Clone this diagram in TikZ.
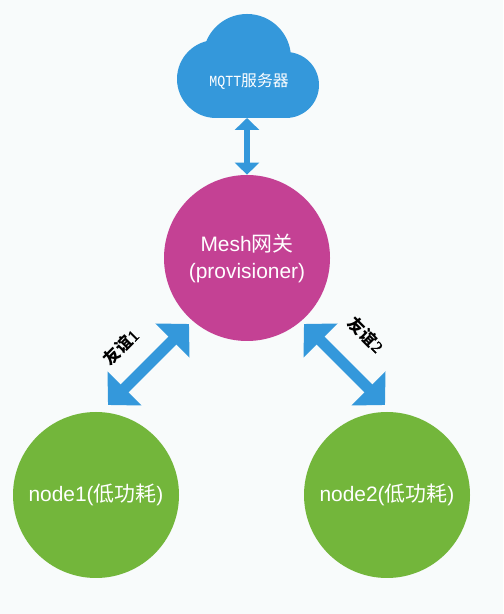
\documentclass[tikz,border=0pt]{standalone}
\usepackage{fontspec}
\setmainfont{Liberation Sans}
\newfontfamily\zh{Noto Sans CJK SC}
\newfontfamily\mqttfont[FakeStretch=0.86]{Liberation Mono}
\newfontfamily\digitfont[FakeBold=2]{Liberation Serif}
\usetikzlibrary{arrows.meta}
\definecolor{pagebg}{HTML}{F8FBFB}
\definecolor{linkblue}{HTML}{3498DB}
\definecolor{meshpink}{HTML}{C44194}
\definecolor{nodegreen}{HTML}{73B63B}
\tikzset{
  roundnode/.style={circle, minimum size=3.32cm, inner sep=0pt, text=white, align=center,
    font=\fontsize{11.9}{15.3}\selectfont},
  thinlink/.style={linkblue, line width=0.12cm, {Triangle[length=0.24cm, width=0.48cm]}-{Triangle[length=0.24cm, width=0.48cm]}},
  widelink/.style={linkblue, line width=0.22cm, {Triangle[length=0.47cm, width=0.94cm]}-{Triangle[length=0.47cm, width=0.94cm]}},
  linklabel/.style={font=\fontsize{9.4}{9.4}\selectfont, text=black, inner sep=0pt}
}
\begin{document}
\begin{tikzpicture}
  % Page background
  \fill[pagebg] (0, 0) rectangle (10.06, 12.28);
  \useasboundingbox (0, 0) rectangle (10.06, 12.28);

  % Cloud
  \fill[linkblue] (4.32, 10.70) circle (0.78);
  \fill[linkblue] (4.94, 11.12) circle (0.88);
  \fill[linkblue] (5.72, 10.58) circle (0.66);
  \fill[linkblue] (4.32, 9.92) rectangle (5.72, 10.90);
  \node[text=white, inner sep=0pt, font=\fontsize{9}{9}\selectfont] (cloud) at (4.98, 10.66)
    {{\mqttfont\fontsize{8.8}{9}\selectfont MQTT}{\zh 服务器}};
  \coordinate (cloudbottom) at (4.94, 9.92);

  % Round nodes
  \node[roundnode, fill=meshpink] (mesh) at (4.94, 7.12) {Mesh{\zh 网关}\\(provisioner)};
  \node[roundnode, fill=nodegreen] (node1) at (1.92, 2.38) {node1({\zh 低功耗})};
  \node[roundnode, fill=nodegreen] (node2) at (7.74, 2.38) {node2({\zh 低功耗})};

  % Arrow ends next to the round nodes
  \coordinate (meshleft) at (3.78, 5.80);
  \coordinate (node1top) at (2.16, 4.18);
  \coordinate (meshright) at (6.08, 5.80);
  \coordinate (node2top) at (7.70, 4.18);

  % Links
  \draw[thinlink] (cloudbottom) -- (mesh.north);
  \draw[widelink] (meshleft) -- (node1top);
  \draw[widelink] (meshright) -- (node2top);

  % Link labels
  \node[linklabel, rotate=45] (friend1) at (2.42, 5.34) {{\zh\bfseries 友谊}{\digitfont 1}};
  \node[linklabel, rotate=-45] (friend2) at (7.32, 5.58) {{\zh\bfseries 友谊}{\digitfont 2}};
\end{tikzpicture}
\end{document}
